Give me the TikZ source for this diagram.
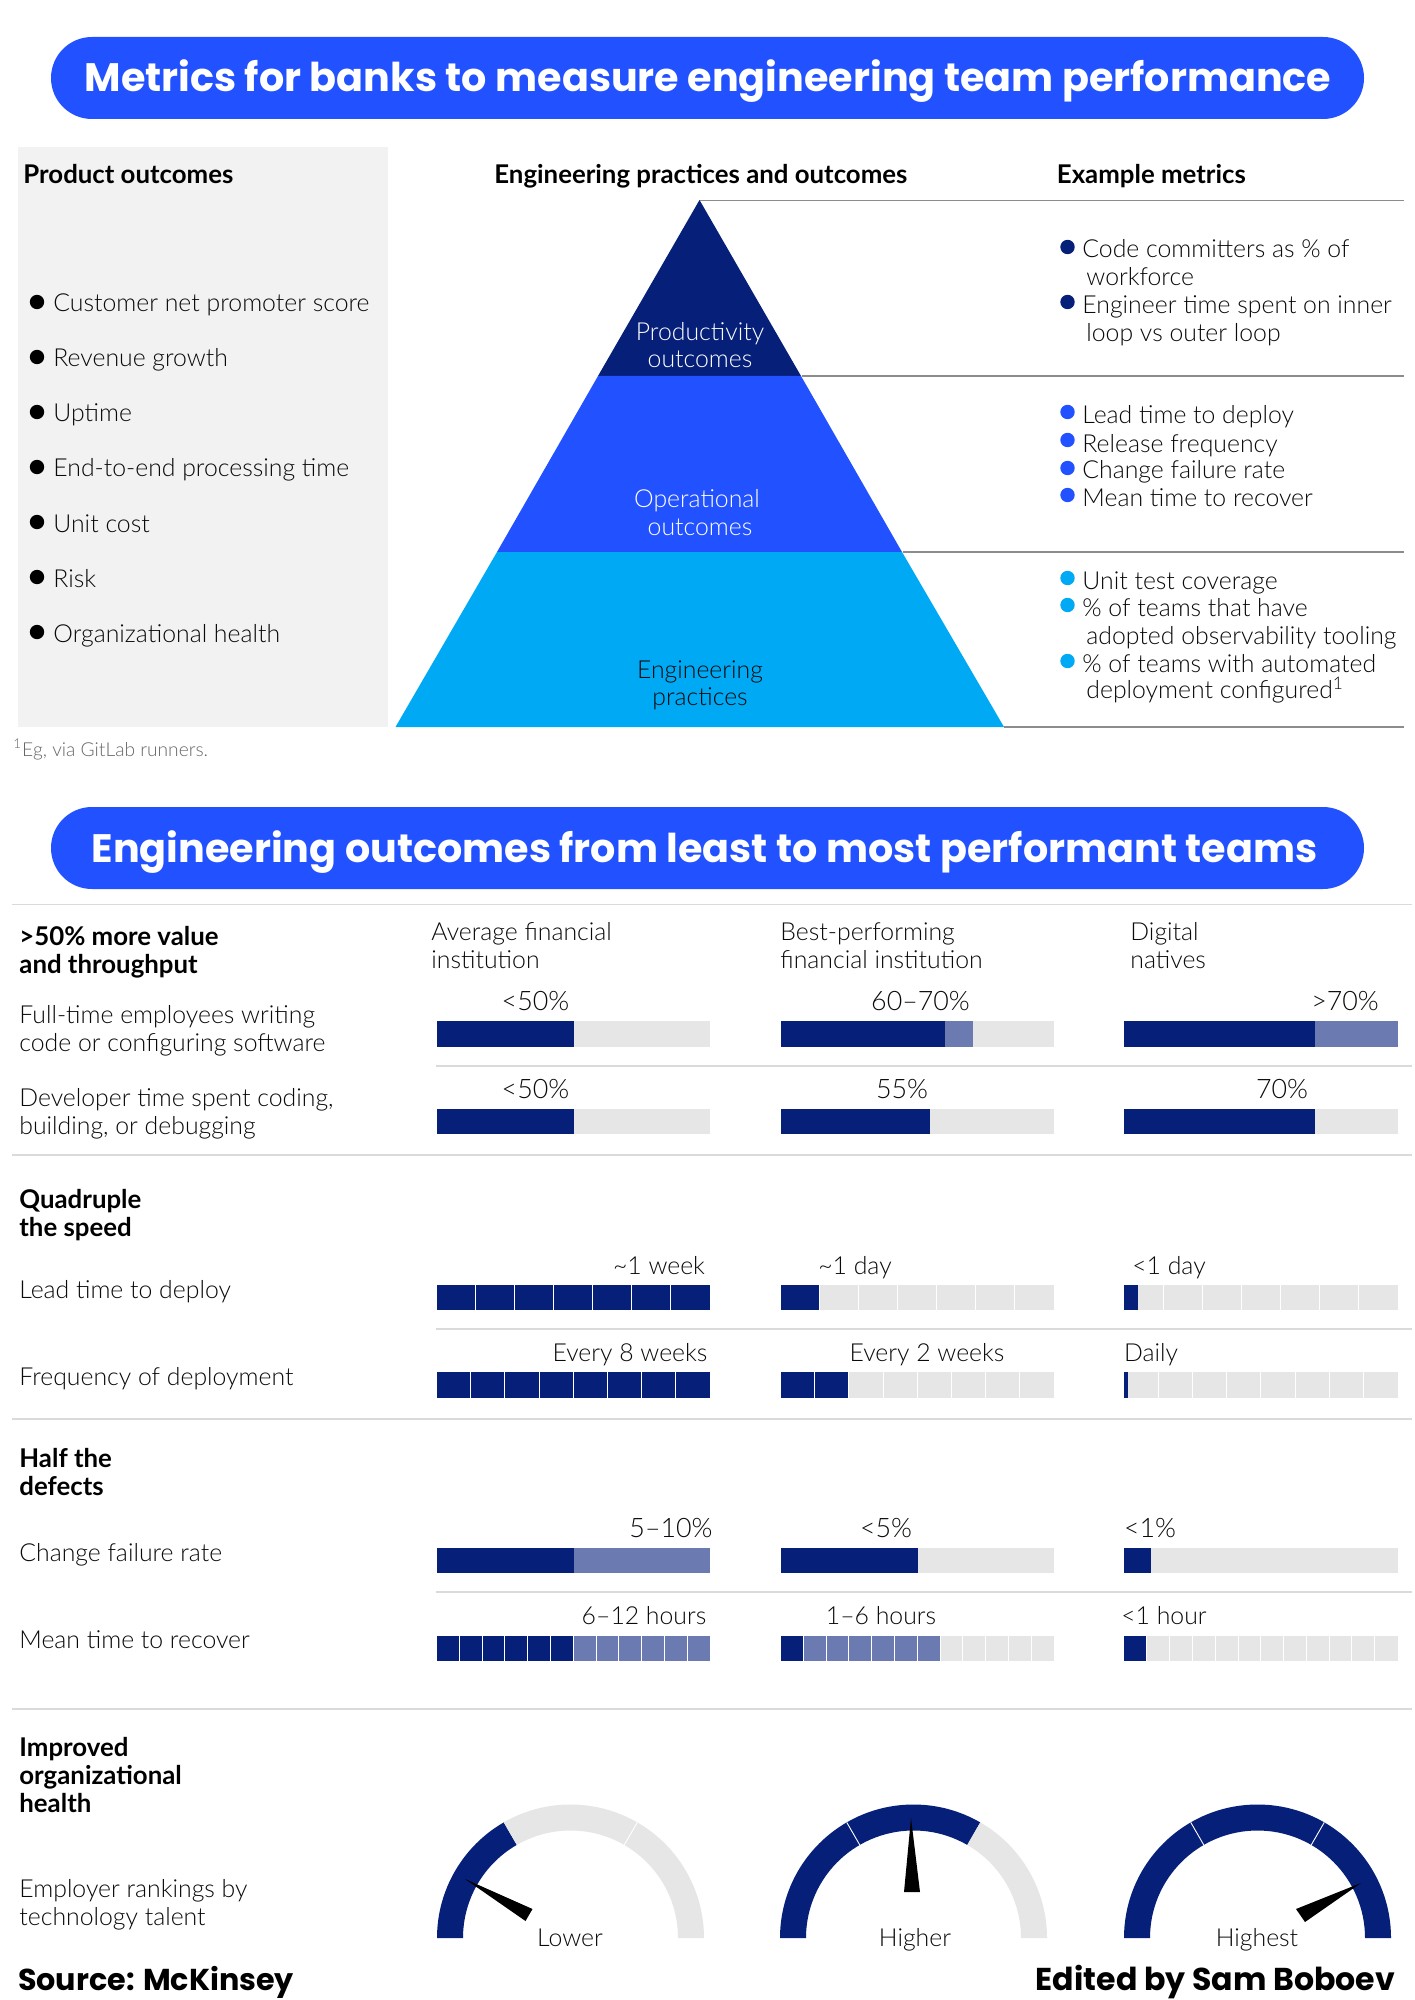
\documentclass[tikz,border=0pt]{standalone}
\usepackage{fontspec}
\setmainfont{Lato}[UprightFont=* Light,BoldFont=* Bold]
\newfontfamily\ttlfont{Poppins}[UprightFont=* Bold]
\definecolor{elec}{HTML}{2251FF}
\definecolor{navy}{HTML}{061F79}
\definecolor{cyanb}{HTML}{00A9F4}
\definecolor{midb}{HTML}{6B7AB0}
\definecolor{lgray}{HTML}{E6E6E6}
\definecolor{panel}{HTML}{F2F2F2}
\definecolor{ink}{HTML}{0A0A0A}
\tikzset{
  pill/.style={fill=elec,rounded corners=20.5pt},
  titletxt/.style={anchor=base,inner sep=0pt,text=white,font=\ttlfont\fontsize{19.85}{23}\selectfont},
  txt/.style={anchor=base west,inner sep=0pt,text=ink,font=\fontsize{12.4}{14}\selectfont},
  head/.style={anchor=base west,inner sep=0pt,text=black,font=\bfseries\fontsize{12.9}{15}\selectfont},
  val/.style={anchor=base,inner sep=0pt,text=ink,font=\fontsize{12.4}{14}\selectfont},
  pct/.style={anchor=base,inner sep=0pt,text=ink,font=\fontsize{13.4}{15}\selectfont},
  pyr/.style={anchor=base,inner sep=0pt,font=\fontsize{12.4}{14}\selectfont},
  rule1/.style={draw=black!45,line width=0.6pt},
  rule2/.style={draw=lgray!95!black,line width=0.7pt},
  sign/.style={anchor=base,inner sep=0pt,text=black,font=\ttlfont\fontsize{15.1}{18}\selectfont},
  signb/.style={anchor=base,inner sep=0pt,text=black,font=\ttlfont\fontsize{15.8}{18}\selectfont},
}
% \mkbar{x0}{ytop}{ybot}{dark width}{mid width}{segments}
\newcommand{\mkbar}[6]{%
  \fill[lgray] (#1,#2) rectangle ({#1+273.5},#3);
  \fill[midb] (#1,#2) rectangle ({#1+#5},#3);
  \fill[navy] (#1,#2) rectangle ({#1+#4},#3);
  \ifnum#6>1
    \pgfmathtruncatemacro{\lastseg}{#6-1}
    \foreach \k in {1,...,\lastseg}{
      \draw[white,line width=0.45pt] ({#1+273.5*\k/#6},#2) -- ({#1+273.5*\k/#6},#3);
    }
  \fi
}
% \gseg{cx}{start}{end}{colour}
\newcommand{\gseg}[4]{%
  \fill[#4,shift={(#1,1938)}] (#2:66.75pt) arc[start angle=#2,end angle=#3,radius=66.75pt]
    -- (#3:53.75pt) arc[start angle=#3,end angle=#2,radius=53.75pt] -- cycle;
}
\newcommand{\gtick}[2]{%
  \draw[white,line width=0.45pt,shift={(#1,1938)}] (#2:53.75pt) -- (#2:66.75pt);
}
\begin{document}
\begin{tikzpicture}[x=0.5pt,y=-0.5pt]
\useasboundingbox (0,0) rectangle (1414,2000);
\fill[white] (0,0) rectangle (1414,2000);

% ---------- first title
\fill[pill] (51,37) rectangle (1364,119);
\node[titletxt] (t1) at (708,92) {Metrics for banks to measure engineering team performance};

% ---------- product panel
\fill[panel] (18,147) rectangle (388,727);
\node[head] (h1) at (23,183.5) {Product outcomes};
\node[head] (h2) at (494,183.5) {Engineering practices and outcomes};
\node[head] (h3) at (1056.5,183.5) {Example metrics};

\foreach \yy/\nm/\tx in {302/p1/Customer net promoter score,357/p2/Revenue growth,412/p3/Uptime,467/p4/End-to-end processing time,522/p5/Unit cost,577/p6/Risk,632/p7/Organizational health}{
  \fill[black] (37,\yy) circle (3.6pt);
  \node[txt] (\nm) at (53,\yy+10) {\tx};
}

% ---------- pyramid
\draw[rule1] (700,200.5) -- (1404,200.5);
\draw[rule1] (802,376) -- (1404,376);
\draw[rule1] (903,552) -- (1404,552);
\draw[rule1] (1004,727) -- (1404,727);
\fill[navy] (699.5,200) -- (801,376) -- (598,376) -- cycle;
\fill[elec] (598,376) -- (801,376) -- (902,552) -- (497,552) -- cycle;
\fill[cyanb] (497,552) -- (902,552) -- (1004,727) -- (395.5,727) -- cycle;
\node[pyr,text=white] (a1) at (700,341) {Productivity};
\node[pyr,text=white] (a2) at (700,368) {outcomes};
\node[pyr,text=white] (b1) at (697,507) {Operational};
\node[pyr,text=white] (b2) at (700,535) {outcomes};
\node[pyr,text=ink] (c1) at (700,678) {Engineering};
\node[pyr,text=ink] (c2) at (700,705) {practices};

% ---------- example metrics
\foreach \yy in {247,302}{\fill[navy] (1067.5,\yy) circle (3.6pt);}
\foreach \yy in {412,440,468,495}{\fill[elec] (1067.5,\yy) circle (3.6pt);}
\foreach \yy in {578,605,661}{\fill[cyanb] (1067.5,\yy) circle (3.6pt);}
\node[txt] (m1)  at (1082,258) {Code committers as \% of};
\node[txt] (m2)  at (1086,286) {workforce};
\node[txt] (m3)  at (1082,314) {Engineer time spent on inner};
\node[txt] (m4)  at (1086,342) {loop vs outer loop};
\node[txt] (m5)  at (1082,424) {Lead time to deploy};
\node[txt] (m6)  at (1082,452) {Release frequency};
\node[txt] (m7)  at (1082,479) {Change failure rate};
\node[txt] (m8)  at (1082,506) {Mean time to recover};
\node[txt] (m9)  at (1082,589) {Unit test coverage};
\node[txt] (m10) at (1082,616) {\% of teams that have};
\node[txt] (m11) at (1086,644) {adopted observability tooling};
\node[txt] (m12) at (1082,672) {\% of teams with automated};
\node[txt] (m13) at (1086,698) {deployment configured\textsuperscript{1}};

\node[anchor=base west,inner sep=0pt,text=black!60,font=\fontsize{9.6}{11}\selectfont] (fn) at (13,756) {\textsuperscript{1}Eg, via GitLab runners.};

% ---------- second title
\fill[pill] (51,807) rectangle (1364,889);
\node[titletxt] (t2) at (704.5,862) {Engineering outcomes from least to most performant teams};

% ---------- rules
\draw[rule2] (12,904.5) -- (1412,904.5);
\draw[rule2] (436,1066) -- (1412,1066);
\draw[rule2] (12,1155) -- (1412,1155);
\draw[rule2] (436,1329) -- (1412,1329);
\draw[rule2] (12,1419) -- (1412,1419);
\draw[rule2] (436,1592) -- (1412,1592);
\draw[rule2] (12,1709) -- (1412,1709);

% ---------- left labels
\node[head] (s1a) at (19,945) {>50\% more value};
\node[head] (s1b) at (19,973) {and throughput};
\node[txt] (l1a) at (19,1023) {Full-time employees writing};
\node[txt] (l1b) at (19,1051) {code or configuring software};
\node[txt] (l2a) at (19,1106) {Developer time spent coding,};
\node[txt] (l2b) at (19,1134) {building, or debugging};
\node[head] (s2a) at (19,1208.5) {Quadruple};
\node[head] (s2b) at (19,1236.5) {the speed};
\node[txt] (l3) at (19,1298) {Lead time to deploy};
\node[txt] (l4) at (19,1385) {Frequency of deployment};
\node[head] (s3a) at (19,1467) {Half the};
\node[head] (s3b) at (19,1495) {defects};
\node[txt] (l5) at (19,1561) {Change failure rate};
\node[txt] (l6) at (19,1648) {Mean time to recover};
\node[head] (s4a) at (19,1756.5) {Improved};
\node[head] (s4b) at (19,1784.5) {organizational};
\node[head] (s4c) at (19,1812.5) {health};
\node[txt] (l7a) at (19,1897.5) {Employer rankings by};
\node[txt] (l7b) at (19,1925.5) {technology talent};

% ---------- column heads
\node[txt] (c1a) at (431,940) {Average financial};
\node[txt] (c1b) at (431,968) {institution};
\node[txt] (c2a) at (780,940) {Best-performing};
\node[txt] (c2b) at (780,968) {financial institution};
\node[txt] (c3a) at (1130,940) {Digital};
\node[txt] (c3b) at (1130,968) {natives};

% ---------- bars
\mkbar{436.5}{1021}{1046.5}{137}{137}{1}
\mkbar{780.5}{1021}{1046.5}{164}{192}{1}
\mkbar{1124}{1021}{1046.5}{191}{273.5}{1}
\mkbar{436.5}{1108.5}{1134}{137}{137}{1}
\mkbar{780.5}{1108.5}{1134}{149}{149}{1}
\mkbar{1124}{1108.5}{1134}{191}{191}{1}
\mkbar{436.5}{1285}{1310}{273.5}{273.5}{7}
\mkbar{780.5}{1285}{1310}{39}{39}{7}
\mkbar{1124}{1285}{1310}{14}{14}{7}
\mkbar{436.5}{1372}{1398}{273.5}{273.5}{8}
\mkbar{780.5}{1372}{1398}{68.4}{68.4}{8}
\mkbar{1124}{1372}{1398}{4}{4}{8}
\mkbar{436.5}{1548}{1573}{137}{273.5}{1}
\mkbar{780.5}{1548}{1573}{137}{137}{1}
\mkbar{1124}{1548}{1573}{27}{27}{1}
\mkbar{436.5}{1636}{1661}{136.75}{273.5}{12}
\mkbar{780.5}{1636}{1661}{22.8}{159.5}{12}
\mkbar{1124}{1636}{1661}{22.8}{22.8}{12}

% ---------- bar values
\node[pct] (v1)  at (535.5,1010) {<50\%};
\node[pct] (v2)  at (920.5,1010) {60–70\%};
\node[pct] (v3)  at (1345,1010) {>70\%};
\node[pct] (v4)  at (535.5,1098) {<50\%};
\node[pct] (v5)  at (902,1098) {55\%};
\node[pct] (v6)  at (1282,1098) {70\%};
\node[val] (v7)  at (659,1274) {\textasciitilde1 week};
\node[val] (v8)  at (855,1274) {\textasciitilde1 day};
\node[val] (v9)  at (1169,1274) {<1 day};
\node[val] (v10) at (630,1361) {Every 8 weeks};
\node[val] (v11) at (927,1361) {Every 2 weeks};
\node[val] (v12) at (1151,1361) {Daily};
\node[pct] (v13) at (671,1537) {5–10\%};
\node[pct] (v14) at (886,1537) {<5\%};
\node[pct] (v15) at (1150,1537) {<1\%};
\node[val] (v16) at (644,1624) {6–12 hours};
\node[val] (v17) at (881,1624) {1–6 hours};
\node[val] (v18) at (1164,1624) {<1 hour};

% ---------- gauges
\gseg{570.5}{180}{120}{navy}
\gseg{570.5}{120}{0}{lgray}
\gtick{570.5}{60}
\gseg{913.5}{180}{60}{navy}
\gseg{913.5}{60}{0}{lgray}
\gtick{913.5}{120}
\gseg{1257.5}{180}{0}{navy}
\gtick{1257.5}{120}
\gtick{1257.5}{60}
\fill[black] (465,1879) -- (532.5,1909) -- (525.5,1921) -- cycle;
\fill[black] (911,1818) -- (904,1892) -- (920,1892) -- cycle;
\fill[black] (1361,1883) -- (1296,1909) -- (1305,1922) -- cycle;
\node[val] (g1) at (570,1946) {Lower};
\node[val] (g2) at (915,1946) {Higher};
\node[val] (g3) at (1257,1946) {Highest};

% ---------- signature
\node[sign] (src) at (156,1990) {Source: McKinsey};
\node[signb] (ed) at (1215.5,1990) {Edited by Sam Boboev};
\end{tikzpicture}
\end{document}
